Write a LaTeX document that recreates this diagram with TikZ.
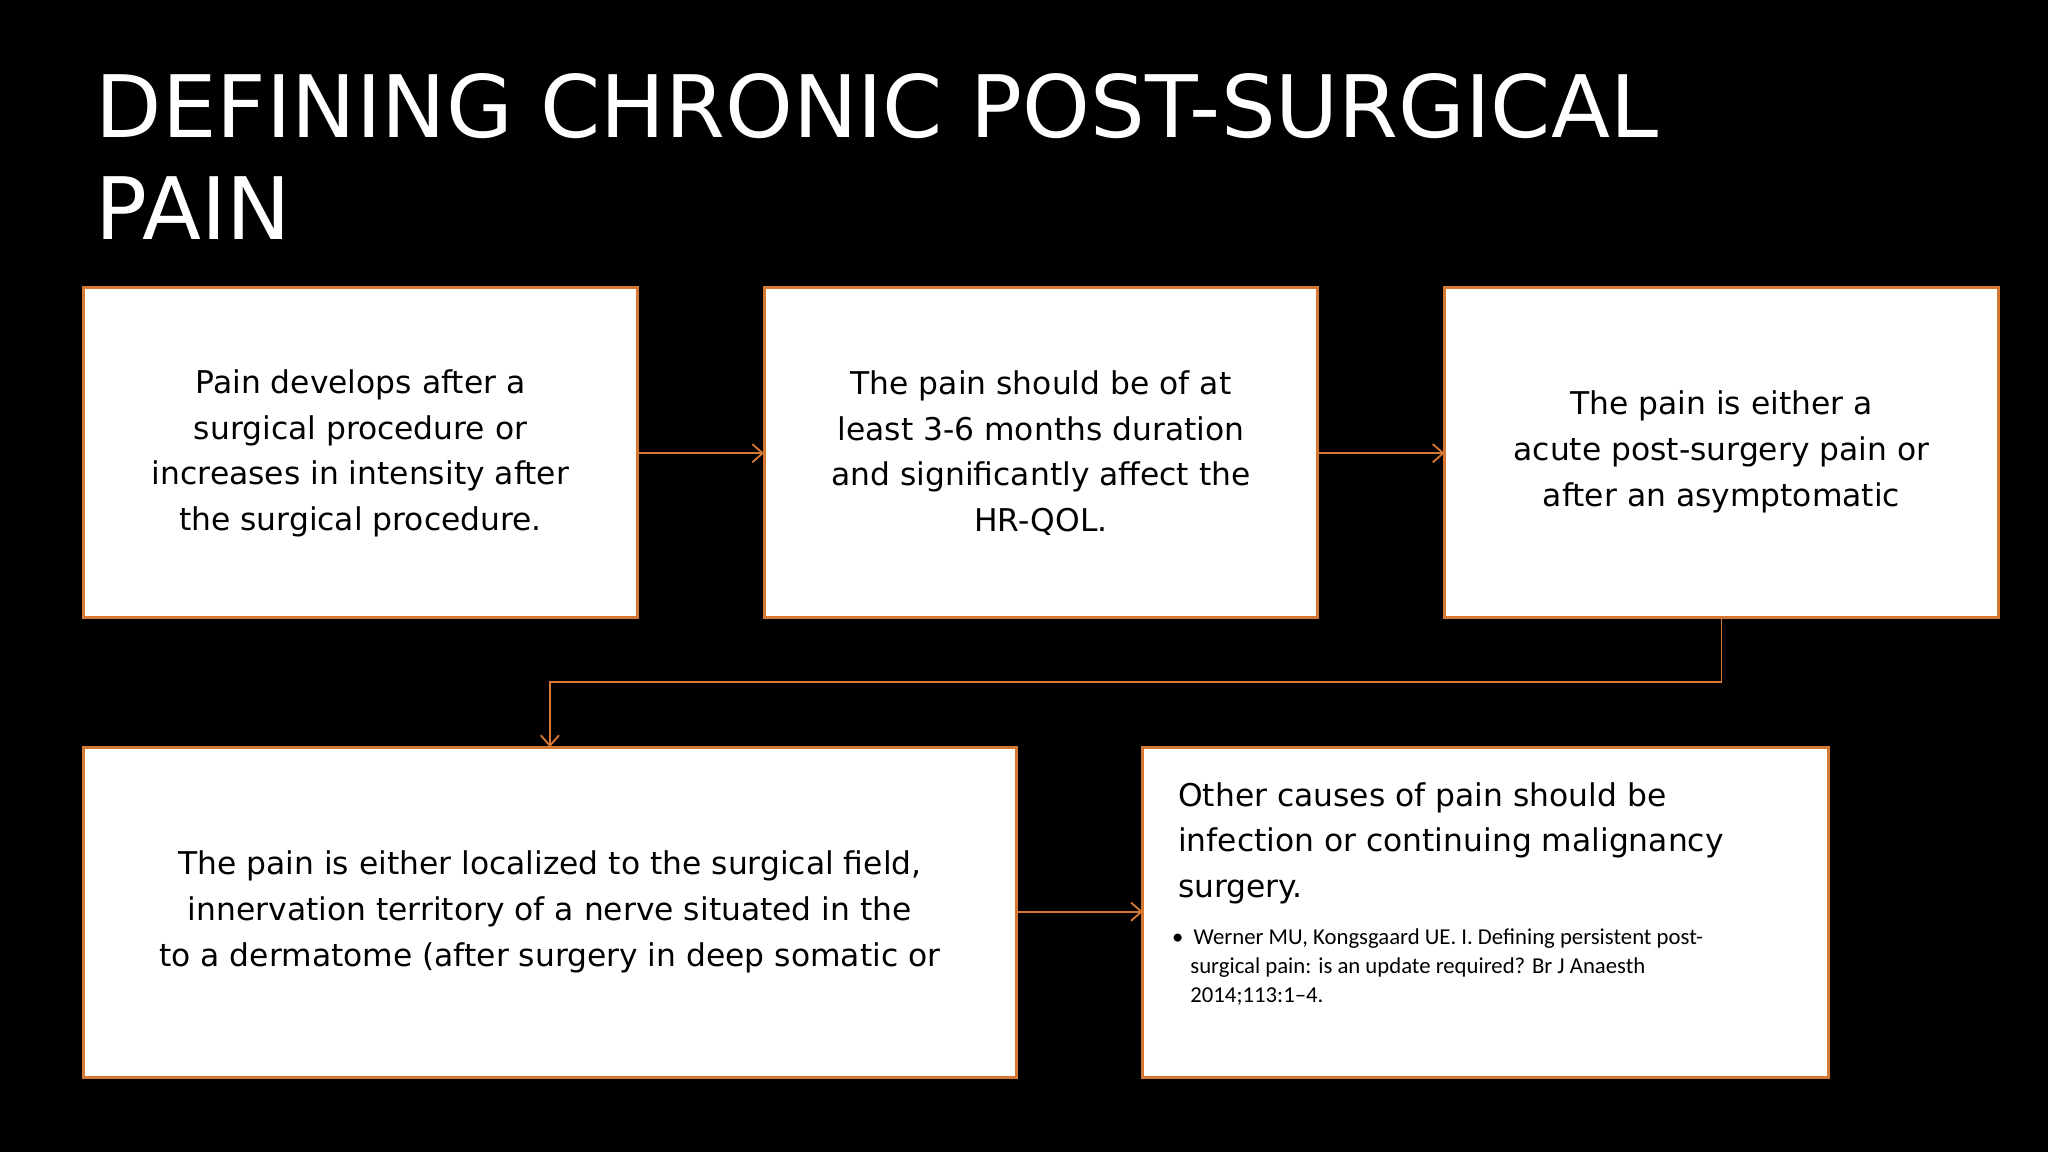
\documentclass[tikz,border=0pt]{standalone}
\usepackage{fontspec}
\setmainfont{DejaVu Sans}
\newfontfamily\citefont{Carlito}
\usetikzlibrary{positioning,arrows.meta}
\definecolor{boxorange}{RGB}{214,120,50}
\tikzset{
  step box/.style={draw=boxorange, line width=1.2pt, fill=white, inner sep=0pt},
  step text/.style={align=center, font=\fontsize{12}{17.5}\selectfont, text=black},
  step arrow/.style={draw=boxorange, line width=0.7pt, -{Straight Barb[length=4pt,width=7pt]}}
}
\begin{document}
\begin{tikzpicture}[x=0.5pt, y=-0.5pt]
  \fill[black] (0,0) rectangle (1568,882);
  % title
  \node[anchor=base west, text=white, font=\fontsize{33}{39}\selectfont, inner sep=0pt] (title) at (73,105) {DEFINING CHRONIC POST-SURGICAL};
  \node[anchor=base west, text=white, font=\fontsize{33}{39}\selectfont, inner sep=0pt] (titleb) at (73,183) {PAIN};
  % boxes
  \draw[step box] (64,220) rectangle (488,473);
  \draw[step box] (585,220) rectangle (1009,473);
  \draw[step box] (1106,220) rectangle (1530,473);
  \draw[step box] (64,572) rectangle (778,825);
  \draw[step box] (875,572) rectangle (1400,825);
  \coordinate (devR) at (488,347);
  \coordinate (durL) at (585,347);
  \coordinate (durR) at (1009,347);
  \coordinate (acuL) at (1106,347);
  \coordinate (acuB) at (1318,473);
  \coordinate (locT) at (421,572);
  \coordinate (locR) at (778,698);
  \coordinate (othL) at (875,698);
  % texts
  \node[step text] (develops) at (276,347) {Pain develops after a\\surgical procedure or\\increases in intensity after\\the surgical procedure.};
  \node[step text] (duration) at (797,347) {The pain should be of at\\least 3-6 months duration\\and significantly affect the\\HR-QOL.};
  \node[step text] (acute) at (1318,346) {The pain is either a\\acute post-surgery pain or\\after an asymptomatic};
  \node[step text] (localized) at (421,698) {The pain is either localized to the surgical field,\\innervation territory of a nerve situated in the\\to a dermatome (after surgery in deep somatic or};
  \node[step text, align=left, anchor=north west] (other) at (895,592) {Other causes of pain should be\\infection or continuing malignancy\\surgery.};
  \node[anchor=north west, align=left, text=black, font=\citefont\fontsize{8.7}{11}\selectfont, inner sep=0pt] (ref) at (897,711)
    {\textbullet\ \ Werner MU, Kongsgaard UE. I. Defining persistent post-\\\hspace*{7pt}surgical pain: is an update required? Br J Anaesth\\\hspace*{7pt}2014;113:1–4.};
  % connectors
  \draw[step arrow] (devR) -- (durL);
  \draw[step arrow] (durR) -- (acuL);
  \draw[step arrow] (acuB) -- ++(0,49) -| (locT);
  \draw[step arrow] (locR) -- (othL);
\end{tikzpicture}
\end{document}
